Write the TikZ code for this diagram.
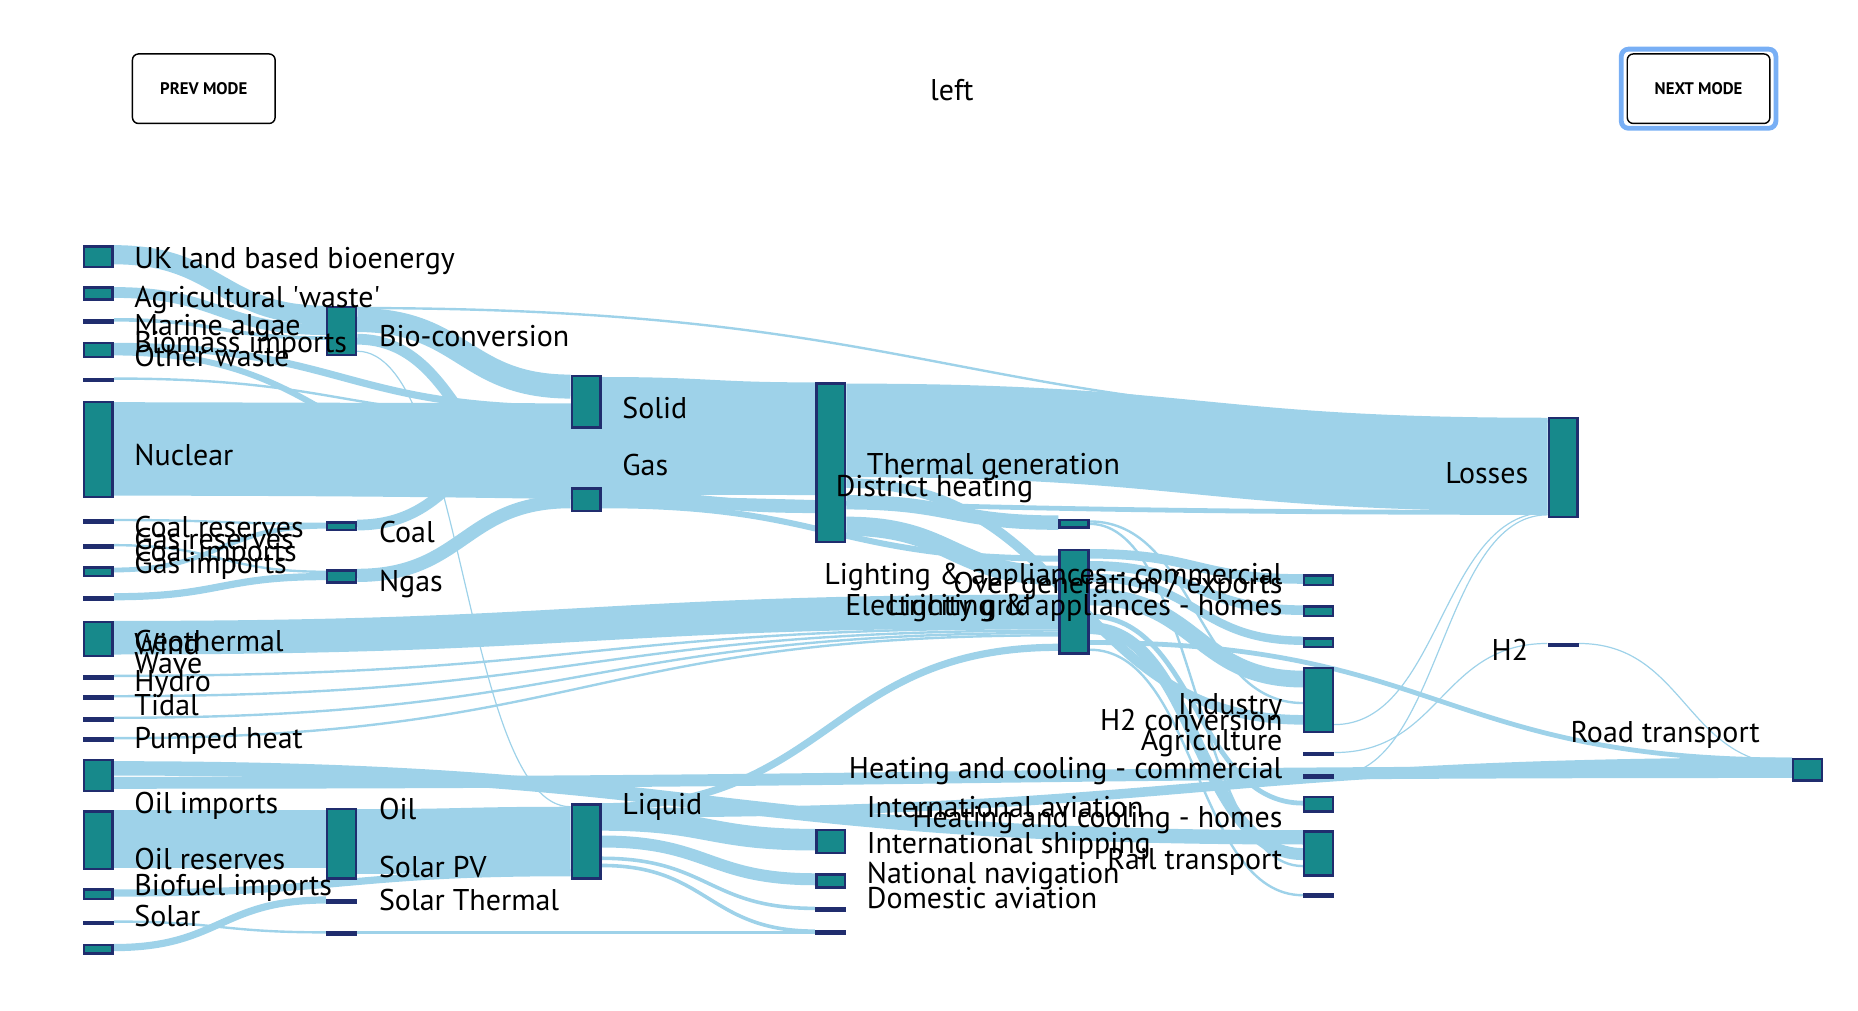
\documentclass[tikz,border=0pt]{standalone}
\usepackage{fontspec}
\setmainfont{PT Sans}
\usetikzlibrary{backgrounds,calc}
\definecolor{barfill}{RGB}{23,137,139}
\definecolor{barline}{RGB}{32,45,110}
\definecolor{flowc}{RGB}{158,210,233}
\definecolor{glow}{RGB}{120,175,245}
\tikzset{
	bar/.style={draw=barline,fill=barfill,line width=2pt,minimum width=24pt,inner sep=0pt},
	thin/.style={fill=barline,minimum width=26pt,minimum height=4pt,inner sep=0pt},
	lab/.style={font=\fontsize{25}{25}\selectfont,inner sep=0pt},
	flow/.style={draw=flowc},
	btn/.style={draw=black,line width=1.2pt,rounded corners=5pt,minimum width=119pt,minimum height=58pt,font=\bfseries\fontsize{14}{14}\selectfont}
}
\newcommand{\lk}[5]{\draw[flow,line width=#1pt] let \p1=([yshift=-#3pt]#2.north east), \p2=([yshift=-#5pt]#4.north west), \n1={(\x2-\x1)/2} in (\p1) .. controls +(\n1,0) and +(-\n1,0) .. (\p2);}
\begin{document}
\begin{tikzpicture}[x=1pt,y=-1pt]
\useasboundingbox (0,0) rectangle (1550,843);
% buttons and mode title
\node[btn] (prev) at (170,74) {PREV MODE};
\node[draw=glow,line width=4pt,rounded corners=6pt,minimum width=129pt,minimum height=66pt] (glowbox) at (1417,74) {};
\node[btn] (next) at (1417,74) {NEXT MODE};
\node[lab] (mode) at (794,75) {left};
% column 1
\node[bar,minimum height=17pt] (ukbio) at (82,214) {};
\node[bar,minimum height=10pt] (agri) at (82,245) {};
\node[thin] (algae) at (82,268) {};
\node[bar,minimum height=12pt] (biomass) at (82,292) {};
\node[thin] (waste) at (82,317) {};
\node[bar,minimum height=79pt] (nuclear) at (82,375) {};
\node[thin] (coalres) at (82,435) {};
\node[thin] (gasres) at (82,456) {};
\node[bar,minimum height=7pt] (coalimp) at (82,477) {};
\node[thin] (gasimp) at (82,499) {};
\node[bar,minimum height=28pt] (wind) at (82,533) {};
\node[thin] (wave) at (82,565) {};
\node[thin] (hydro) at (82,582) {};
\node[thin] (tidal) at (82,600) {};
\node[thin] (pumped) at (82,617) {};
\node[bar,minimum height=26pt] (geo) at (82,647) {};
\node[bar,minimum height=48pt] (oilimp) at (82,701) {};
\node[bar,minimum height=8pt] (biofuel) at (82,746) {};
\node[thin] (solar) at (82,770) {};
\node[bar,minimum height=7pt] (oilres) at (82,792) {};
% column 2
\node[bar,minimum height=40pt] (bioconv) at (285,276) {};
\node[bar,minimum height=6pt] (coal) at (285,439) {};
\node[bar,minimum height=10pt] (ngas) at (285,481) {};
\node[bar,minimum height=58pt] (oil) at (285,704) {};
\node[thin] (solarpv) at (285,752) {};
\node[thin] (solarth) at (285,779) {};
% column 3
\node[bar,minimum height=43pt] (solid) at (489,335) {};
\node[bar,minimum height=19pt] (gas) at (489,417) {};
\node[bar,minimum height=62pt] (liquid) at (489,702) {};
% column 4
\node[bar,minimum height=132pt] (thermal) at (693,386) {};
\node[bar,minimum height=19pt] (intav) at (693,702) {};
\node[bar,minimum height=11pt] (intship) at (693,735) {};
\node[thin] (natnav) at (693,759) {};
\node[thin] (domav) at (693,778) {};
\node[bar,minimum height=6pt] (district) at (896,437) {};
\node[bar,minimum height=86pt] (grid) at (896,502) {};
% column 5
\node[bar,minimum height=8pt] (lightcom) at (1100,484) {};
\node[bar,minimum height=8pt] (lighthome) at (1100,510) {};
\node[bar,minimum height=7pt] (overgen) at (1100,536) {};
\node[bar,minimum height=53pt] (industry) at (1100,584) {};
\node[thin] (h2conv) at (1100,629) {};
\node[thin] (agricult) at (1100,648) {};
\node[bar,minimum height=12pt] (heatcom) at (1100,671) {};
\node[bar,minimum height=37pt] (heathome) at (1100,712) {};
\node[thin] (rail) at (1100,747) {};
% column 6 and 7
\node[bar,minimum height=83pt] (losses) at (1304,390) {};
\node[thin] (htwo) at (1304,538) {};
\node[bar,minimum height=18pt] (road) at (1508,642) {};
% flows
\begin{scope}[on background layer]
\lk{16}{ukbio}{8}{bioconv}{8}
\lk{9}{agri}{5}{bioconv}{20}
\lk{3}{algae}{1}{bioconv}{27}
\lk{6}{biomass}{4}{solid}{28}
\lk{5}{biomass}{9}{gas}{2}
\lk{2}{waste}{1}{solid}{36}
\lk{20}{bioconv}{12}{solid}{10}
\lk{9}{bioconv}{28}{gas}{6}
\lk{1}{bioconv}{38}{liquid}{3}
\lk{2}{bioconv}{2}{losses}{4}
\lk{76}{nuclear}{39}{thermal}{56}
\lk{4}{nuclear}{77}{losses}{80}
\lk{2}{coalres}{1}{coal}{2}
\lk{4}{coalimp}{3}{coal}{4}
\lk{2}{gasres}{1}{ngas}{2}
\lk{6}{gasimp}{1}{ngas}{6}
\lk{9}{coal}{3}{solid}{38}
\lk{11}{ngas}{5}{gas}{12}
\lk{40}{solid}{22}{thermal}{20}
\lk{10}{gas}{8}{thermal}{104}
\lk{5}{gas}{15}{grid}{8}
\lk{78}{thermal}{40}{losses}{40}
\lk{12}{thermal}{100}{district}{3}
\lk{16}{thermal}{120}{grid}{22}
\lk{28}{wind}{14}{grid}{52}
\lk{2}{wave}{1}{grid}{66}
\lk{2}{hydro}{1}{grid}{68}
\lk{2}{tidal}{1}{grid}{70}
\lk{2}{pumped}{1}{grid}{72}
\lk{12}{geo}{8}{heathome}{6}
\lk{10}{geo}{20}{road}{12}
\lk{48}{oilimp}{24}{oil}{26}
\lk{6}{biofuel}{4}{liquid}{58}
\lk{6}{oilres}{3}{solarpv}{1}
\lk{2}{solar}{1}{solarth}{1}
\lk{54}{oil}{28}{liquid}{30}
\lk{18}{liquid}{14}{intav}{9}
\lk{10}{liquid}{32}{intship}{5}
\lk{3}{liquid}{46}{natnav}{1}
\lk{3}{liquid}{52}{domav}{1}
\lk{6}{liquid}{3}{grid}{82}
\lk{8}{liquid}{8}{road}{4}
\lk{2}{solarth}{1}{domav}{2}
\lk{8}{grid}{4}{lightcom}{4}
\lk{8}{grid}{14}{lighthome}{4}
\lk{7}{grid}{24}{overgen}{3}
\lk{14}{grid}{40}{industry}{10}
\lk{4}{grid}{56}{heatcom}{6}
\lk{10}{grid}{66}{heathome}{20}
\lk{4}{grid}{78}{road}{2}
\lk{2}{grid}{84}{rail}{2}
\lk{2}{district}{2}{industry}{30}
\lk{2}{district}{4}{heathome}{30}
\lk{8}{thermal}{84}{industry}{44}
\lk{1}{industry}{48}{losses}{80}
\lk{1}{h2conv}{1}{htwo}{1}
\lk{1}{agricult}{1}{losses}{82}
\lk{1}{htwo}{1}{road}{6}
\end{scope}
% labels
\node[lab,anchor=west] (lukbio) at (112,218) {UK land based bioenergy};
\node[lab,anchor=west] (lagri) at (112,250) {Agricultural \textquotesingle waste\textquotesingle};
\node[lab,anchor=west] (lalgae) at (112,274) {Marine algae};
\node[lab,anchor=west] (lbiomass) at (112,288) {Biomass imports};
\node[lab,anchor=west] (lwaste) at (112,297) {Other waste};
\node[lab,anchor=west] (lnuclear) at (112,380) {Nuclear};
\node[lab,anchor=west] (lcoalres) at (112,440) {Coal reserves};
\node[lab,anchor=west] (lgasres) at (112,450) {Gas reserves};
\node[lab,anchor=west] (lcoalimp) at (112,462) {Coal imports};
\node[lab,anchor=west] (lgasimp) at (112,472) {Gas imports};
\node[lab,anchor=west] (lgeo) at (112,535) {Geothermal};
\node[lab,anchor=west] (lwind) at (112,537) {Wind};
\node[lab,anchor=west] (lwave) at (112,553) {Wave};
\node[lab,anchor=west] (lhydro) at (112,571) {Hydro};
\node[lab,anchor=west] (ltidal) at (112,588) {Tidal};
\node[lab,anchor=west] (lpumped) at (112,618) {Pumped heat};
\node[lab,anchor=west] (loilimp) at (112,672) {Oil imports};
\node[lab,anchor=west] (loilres) at (112,717) {Oil reserves};
\node[lab,anchor=west] (lbiofuel) at (112,741) {Biofuel imports};
\node[lab,anchor=west] (lsolar) at (112,764) {Solar};
\node[lab,anchor=west] (lbioconv) at (316,280) {Bio-conversion};
\node[lab,anchor=west] (lcoal) at (316,444) {Coal};
\node[lab,anchor=west] (lngas) at (316,487) {Ngas};
\node[lab,anchor=west] (loil) at (316,675) {Oil};
\node[lab,anchor=west] (lsolarpv) at (316,723) {Solar PV};
\node[lab,anchor=west] (lsolarth) at (316,751) {Solar Thermal};
\node[lab,anchor=west] (lsolid) at (519,340) {Solid};
\node[lab,anchor=west] (lgas) at (519,388) {Gas};
\node[lab,anchor=west] (lliquid) at (519,673) {Liquid};
\node[lab,anchor=west] (lthermal) at (723,390) {Thermal generation};
\node[lab,anchor=west] (ldistrict) at (697,408) {District heating};
\node[lab,anchor=west] (lgrid) at (705,507) {Electricity grid};
\node[lab,anchor=west] (lintav) at (723,673) {International aviation};
\node[lab,anchor=west] (lintship) at (723,706) {International shipping};
\node[lab,anchor=west] (lnatnav) at (723,731) {National navigation};
\node[lab,anchor=west] (ldomav) at (723,749) {Domestic aviation};
\node[lab,anchor=east] (llightcom) at (1070,481) {Lighting \& appliances - commercial};
\node[lab,anchor=east] (lovergen) at (1070,489) {Over generation / exports};
\node[lab,anchor=east] (llighthome) at (1070,507) {Lighting \& appliances - homes};
\node[lab,anchor=east] (lindustry) at (1070,590) {Industry};
\node[lab,anchor=east] (lh2conv) at (1070,601) {H2 conversion};
\node[lab,anchor=east] (lagricult) at (1070,620) {Agriculture};
\node[lab,anchor=east] (lheatcom) at (1070,643) {Heating and cooling - commercial};
\node[lab,anchor=east] (lheathome) at (1070,684) {Heating and cooling - homes};
\node[lab,anchor=east] (lrail) at (1070,719) {Rail transport};
\node[lab,anchor=east] (llosses) at (1275,395) {Losses};
\node[lab,anchor=east] (lhtwo) at (1275,542) {H2};
\node[lab,anchor=west] (lroad) at (1310,613) {Road transport};
\end{tikzpicture}
\end{document}
